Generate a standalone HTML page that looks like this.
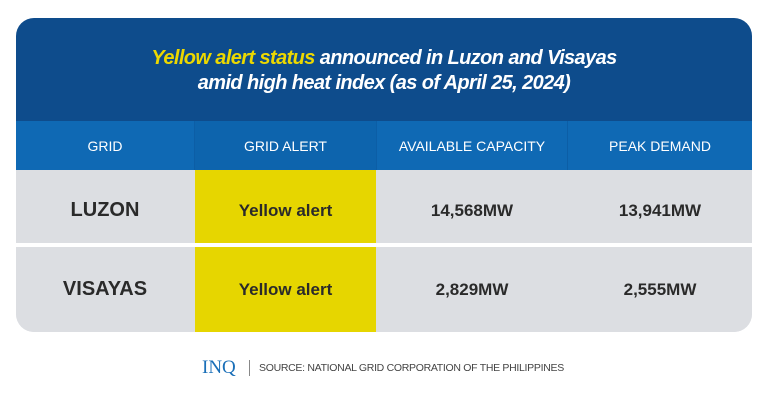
<!DOCTYPE html>
<html><head><style>
body{margin:0;width:768px;height:406px;background:#fff;font-family:"Liberation Sans",sans-serif;position:relative;overflow:hidden}
.card{position:absolute;left:16px;top:18px;width:736px;height:314px;border-radius:18px;overflow:hidden;background:#dcdee2}
.hd{position:absolute;left:0;top:0;width:736px;height:103px;background:#0e4c8c;color:#fff;text-align:center;font-weight:bold;font-style:italic;font-size:20px;line-height:25px;letter-spacing:-0.6px}
.hd .t{position:absolute;top:28px;width:100%}
.y{color:#ecd800}
.thbg{position:absolute;left:0;top:103px;width:736px;height:49px;background:#0c5ea6}
.th{position:absolute;top:103px;height:49px;background:#0f69b4;color:#fff;font-size:14px;display:flex;align-items:center;justify-content:center}
.c{position:absolute;display:flex;align-items:center;justify-content:center;font-weight:bold;color:#2a2a2a;background:#dcdee2}
</style></head><body>
<div class="card">
<div class="hd"><div class="t"><span class="y">Yellow alert status</span> announced in Luzon and Visayas<br>amid high heat index (as of April 25, 2024)</div></div>
<div class="thbg"></div>
<div class="th" style="left:0;width:178px">GRID</div>
<div class="th" style="left:179px;width:181px;background:#0d64ad">GRID ALERT</div>
<div class="th" style="left:361px;width:190px">AVAILABLE CAPACITY</div>
<div class="th" style="left:552px;width:184px">PEAK DEMAND</div>
<div class="c" style="left:0;top:152px;width:178px;height:73px;font-size:20px;padding-top:8px;box-sizing:border-box">LUZON</div>
<div class="c" style="left:179px;top:152px;width:181px;height:73px;font-size:17px;background:#e6d600;padding-top:8px;box-sizing:border-box">Yellow alert</div>
<div class="c" style="left:361px;top:152px;width:190px;height:73px;font-size:17px;padding-top:8px;box-sizing:border-box">14,568MW</div>
<div class="c" style="left:552px;top:152px;width:184px;height:73px;font-size:17px;padding-top:8px;box-sizing:border-box">13,941MW</div>
<div style="position:absolute;left:0;top:225px;width:736px;height:4px;background:#fff"></div>
<div class="c" style="left:0;top:229px;width:178px;height:85px;font-size:20px">VISAYAS</div>
<div class="c" style="left:179px;top:229px;width:181px;height:85px;font-size:17px;background:#e6d600">Yellow alert</div>
<div class="c" style="left:361px;top:229px;width:190px;height:85px;font-size:17px">2,829MW</div>
<div class="c" style="left:552px;top:229px;width:184px;height:85px;font-size:17px">2,555MW</div>
</div>
<div style="position:absolute;left:202px;top:357px;font-family:'Liberation Serif',serif;font-size:19px;color:#1a6fb8">INQ</div>
<div style="position:absolute;left:249px;top:360px;width:1px;height:16px;background:#888"></div>
<div style="position:absolute;left:259px;top:362px;font-size:10.5px;color:#444;letter-spacing:-0.3px">SOURCE: NATIONAL GRID CORPORATION OF THE PHILIPPINES</div>
</body></html>
